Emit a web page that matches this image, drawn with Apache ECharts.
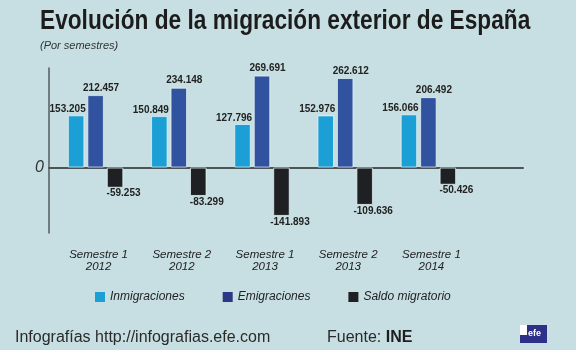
<!DOCTYPE html>
<html>
<head>
<meta charset="utf-8">
<script src="https://cdn.jsdelivr.net/npm/echarts@6/dist/echarts.min.js"></script>
<style>
html,body{margin:0;padding:0;background:#c7dfe2;}
#c{width:576px;height:350px;}
</style>
</head>
<body>
<div id="c"></div>
<script>
const categories = ['Semestre 1\n2012', 'Semestre 2\n2012', 'Semestre 1\n2013', 'Semestre 2\n2013', 'Semestre 1\n2014'];
const inmigraciones = [153205, 150849, 127796, 152976, 156066];
const emigraciones = [212457, 234148, 269691, 262612, 206492];
const saldo = [-59253, -83299, -141893, -109636, -50426];
const seriesNames = ['Inmigraciones', 'Emigraciones', 'Saldo migratorio'];

const SANS = "'Liberation Sans', Arial, sans-serif";
const C_LIGHT = '#1b9fd4', C_BLUE = '#30529f', C_BLACK = '#1f2024';

function fmt(v) {
  const a = Math.abs(v);
  const th = Math.floor(a / 1000), rest = String(a % 1000).padStart(3, '0');
  return (v < 0 ? '-' : '') + th + '.' + rest;
}

const YMIN = -192000, YMAX = 292000, YINT = 96000;

const chart = echarts.init(document.getElementById('c'), null, {renderer: 'canvas'});
function lbl(pos, dx, dist) {
  return {show: true, position: pos, offset: [dx, 0], distance: dist,
    fontFamily: SANS, fontSize: 10, fontWeight: 'bold', color: '#222',
    formatter: p => fmt(p.value)};
}
const border = {borderColor: 'rgba(235,248,250,0.7)', borderWidth: 1};
chart.setOption({
  backgroundColor: '#c7dfe2',
  animation: false,
  legend: {
    left: 90, top: 286, itemWidth: 10, itemHeight: 10, itemGap: 38,
    icon: 'rect',
    textStyle: {fontFamily: SANS, fontSize: 12, fontStyle: 'italic', color: '#222'},
    data: [
      {name: seriesNames[0], itemStyle: {color: C_LIGHT, borderWidth: 0}},
      {name: seriesNames[1], itemStyle: {color: '#2b3886', borderWidth: 0}},
      {name: seriesNames[2], itemStyle: {color: C_BLACK, borderWidth: 0}}
    ]
  },
  grid: [
    {left: 54, width: 416, top: 68, bottom: 117},
    {left: 49, right: 53, top: 68, bottom: 117}
  ],
  xAxis: [
    {type: 'category', gridIndex: 0, data: categories,
     axisLine: {show: false, onZero: false}, axisTick: {show: false},
     axisLabel: {interval: 0, fontFamily: SANS, fontSize: 11.5, fontStyle: 'italic', color: '#222',
                 lineHeight: 12, margin: 16, padding: [0, 0, 0, 6]}},
    {type: 'value', gridIndex: 1, min: 0, max: 1,
     axisLine: {show: true, onZero: true, lineStyle: {color: '#4d5455', width: 2}},
     axisTick: {show: false}, axisLabel: {show: false}, splitLine: {show: false}}
  ],
  yAxis: [
    {type: 'value', gridIndex: 0, min: YMIN, max: YMAX, interval: YINT, show: false, splitLine: {show: false}},
    {type: 'value', gridIndex: 1, min: YMIN, max: YMAX, interval: YINT,
     axisLine: {show: true, lineStyle: {color: '#555b5c', width: 1.5}},
     axisTick: {show: false}, splitLine: {show: false},
     axisLabel: {margin: 5, fontFamily: SANS, fontSize: 16, fontStyle: 'italic', color: '#333',
                 formatter: v => v === 0 ? '0' : ''}}
  ],
  series: [
    {name: seriesNames[0], type: 'bar', xAxisIndex: 0, yAxisIndex: 0, data: inmigraciones,
     barWidth: 16.5, barGap: '18%', itemStyle: Object.assign({color: C_LIGHT}, border),
     label: lbl('top', -8.5, 1)},
    {name: seriesNames[1], type: 'bar', xAxisIndex: 0, yAxisIndex: 0, data: emigraciones,
     barWidth: 16.5, barGap: '18%', itemStyle: Object.assign({color: C_BLUE}, border),
     label: lbl('top', 5.5, 2)},
    {name: seriesNames[2], type: 'bar', xAxisIndex: 0, yAxisIndex: 0, data: saldo,
     barWidth: 16.5, barGap: '18%', itemStyle: Object.assign({color: C_BLACK}, border),
     label: lbl('bottom', 8.5, 1)}
  ],
  graphic: [
    {type: 'text', x: 40, y: 22, scaleX: 0.84,
     style: {text: 'Evolución de la migración exterior de España', fill: '#1c1c1c',
             font: 'bold 27px ' + SANS, textAlign: 'left', textVerticalAlign: 'middle'}},
    {type: 'text', x: 40, y: 46,
     style: {text: '(Por semestres)', fill: '#333', font: 'italic 11px ' + SANS,
             textAlign: 'left', textVerticalAlign: 'middle'}},
    {type: 'text', x: 15, y: 338,
     style: {text: 'Infografías http://infografias.efe.com', fill: '#2a2a2a', font: '16px ' + SANS,
             textAlign: 'left', textVerticalAlign: 'middle'}},
    {type: 'text', x: 327, y: 338,
     style: {text: '{a|Fuente: }{b|INE}', textAlign: 'left', textVerticalAlign: 'middle',
             rich: {a: {fontFamily: SANS, fontSize: 16, fill: '#2a2a2a', color: '#2a2a2a'},
                    b: {fontFamily: SANS, fontSize: 16, fontWeight: 'bold', fill: '#1e1e1e', color: '#1e1e1e'}}}},
    {type: 'group', x: 520, y: 325, children: [
      {type: 'rect', shape: {x: 0, y: 0, width: 27, height: 18}, style: {fill: '#2c3088'}},
      {type: 'rect', shape: {x: 0, y: 0, width: 7, height: 10}, style: {fill: '#ffffff'}},
      {type: 'text', x: 8, y: 4, style: {text: 'efe', fill: '#ffffff', font: 'bold 9px ' + SANS}}
    ]}
  ]
});
</script>
</body>
</html>
